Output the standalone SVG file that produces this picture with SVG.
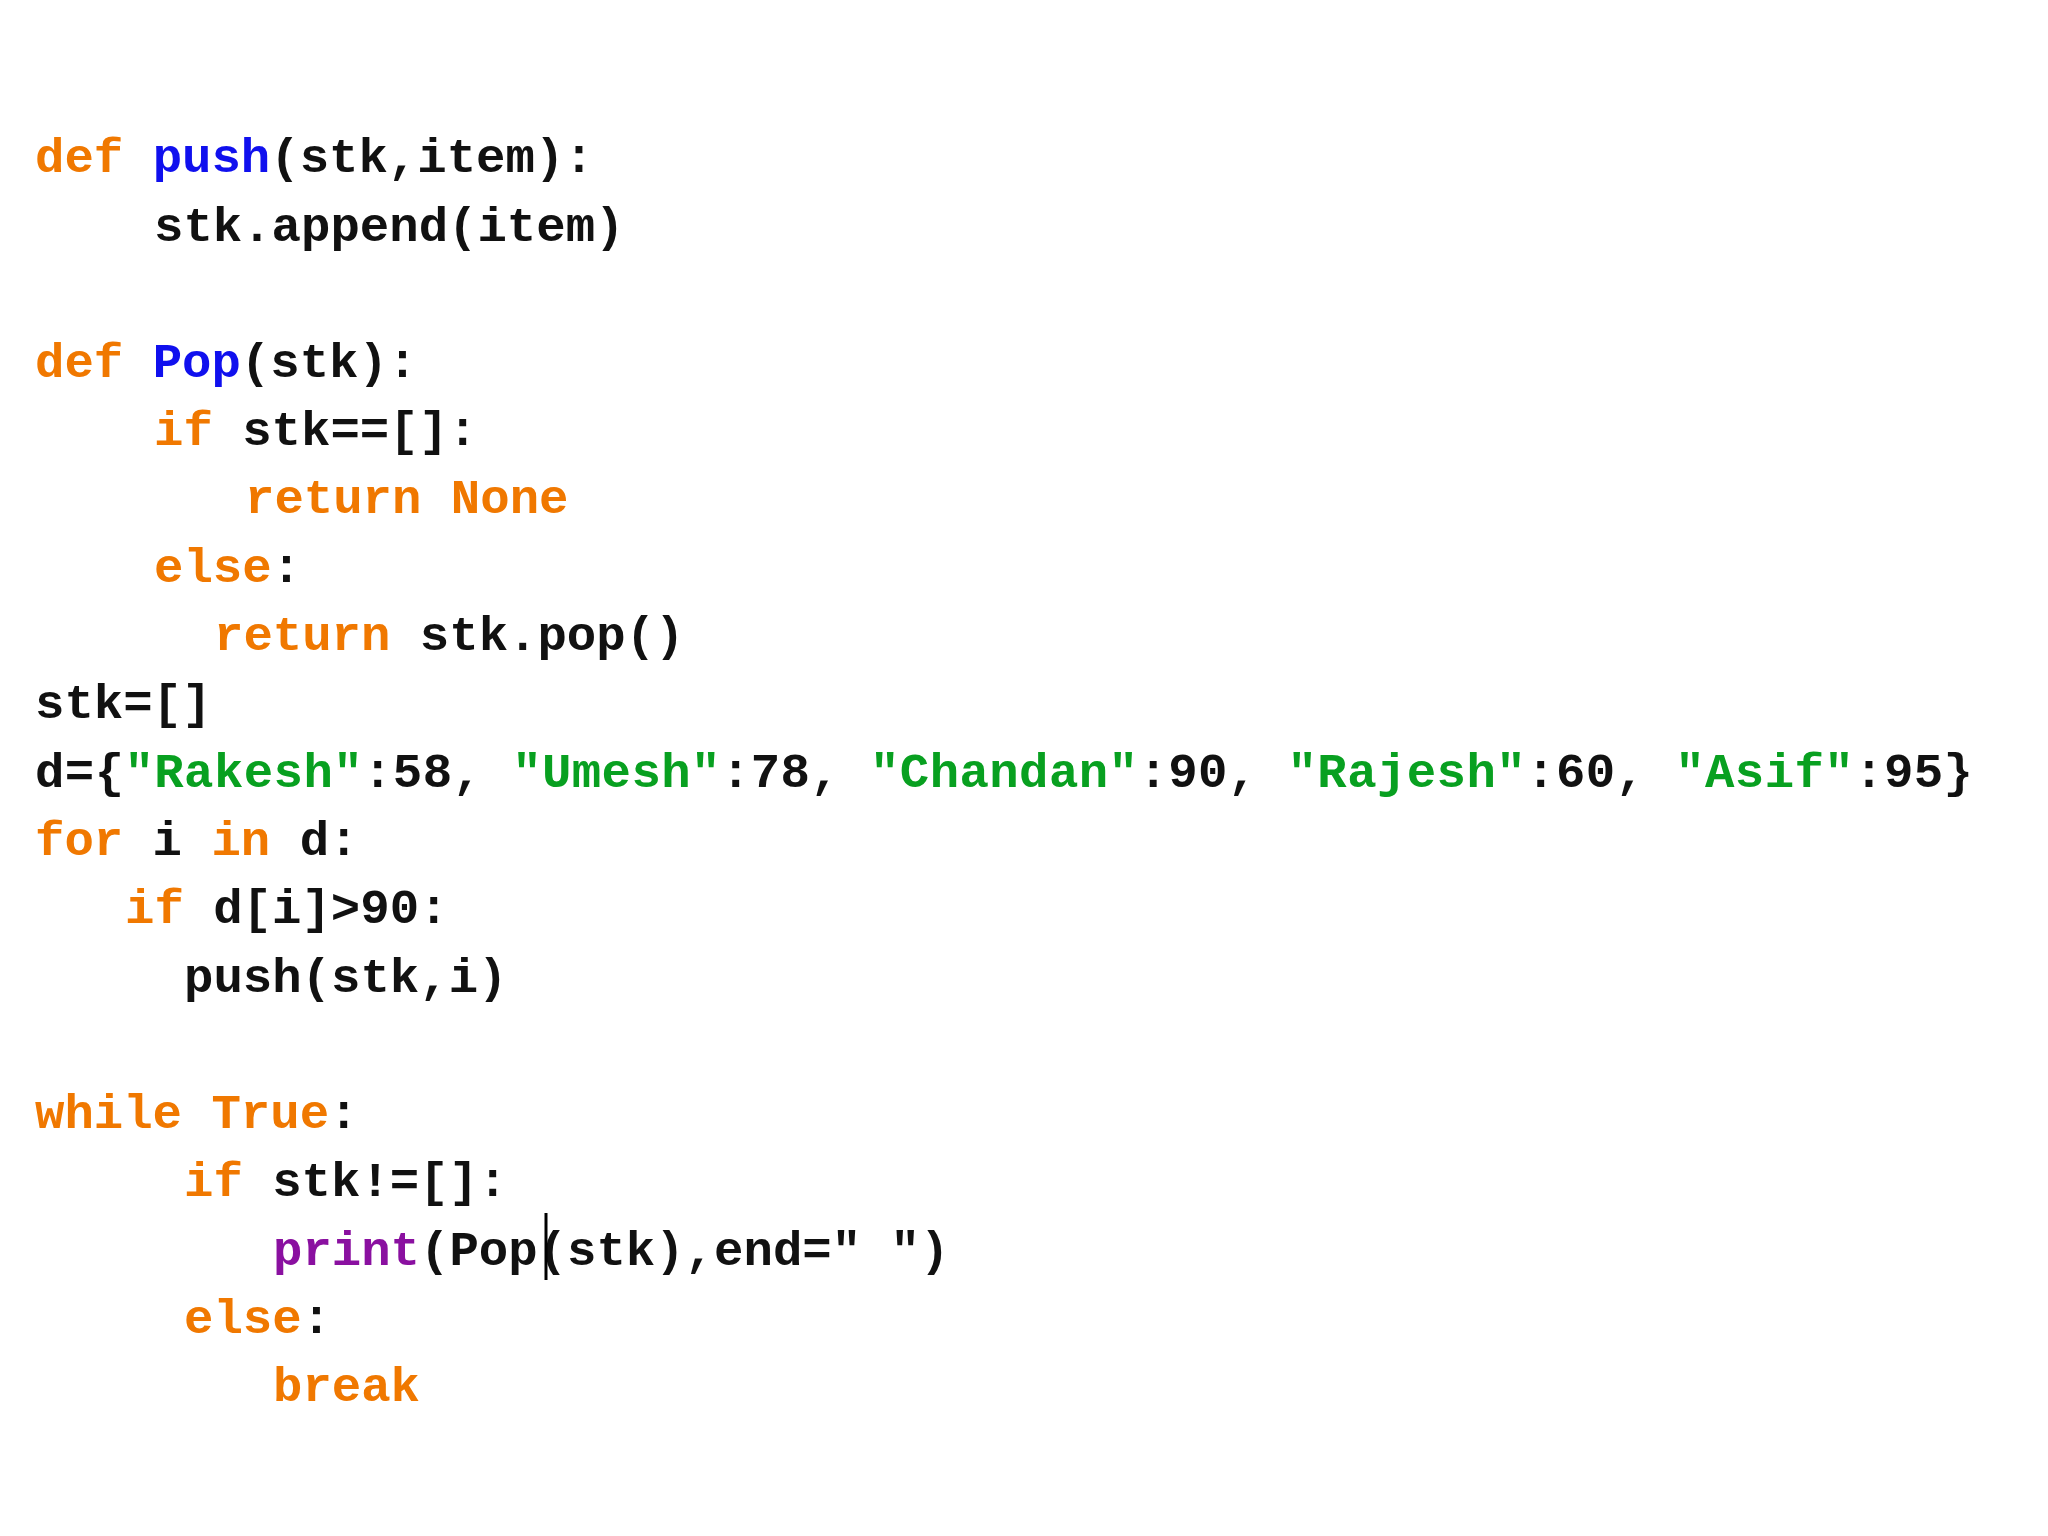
<svg xmlns="http://www.w3.org/2000/svg" width="2048" height="1536" viewBox="0 0 2048 1536">
<style>
text{font-family:"Liberation Mono","DejaVu Sans Mono",monospace;font-size:49px;font-weight:bold;fill:#111;white-space:pre}
.k{fill:#f07800}.f{fill:#1010ee}.s{fill:#08a020}.p{fill:#8a10a0}
</style>
<rect width="2048" height="1536" fill="#fff"/>
<g id="code" xml:space="preserve" transform="translate(0,-5)">
<text x="35" y="177"><tspan class="k">def</tspan> <tspan class="f">push</tspan>(stk,item):</text>
<text x="154" y="246">stk.append(item)</text>
<text x="35" y="382"><tspan class="k">def</tspan> <tspan class="f">Pop</tspan>(stk):</text>
<text x="154" y="450"><tspan class="k">if</tspan> stk==[]:</text>
<text x="245" y="518" class="k">return None</text>
<text x="154" y="587"><tspan class="k">else</tspan>:</text>
<text x="214" y="655"><tspan class="k">return</tspan> stk.pop()</text>
<text x="35" y="723">stk=[]</text>
<text x="35" y="792" textLength="1938">d={<tspan class="s">"Rakesh"</tspan>:58, <tspan class="s">"Umesh"</tspan>:78, <tspan class="s">"Chandan"</tspan>:90, <tspan class="s">"Rajesh"</tspan>:60, <tspan class="s">"Asif"</tspan>:95}</text>
<text x="35" y="860"><tspan class="k">for</tspan> i <tspan class="k">in</tspan> d:</text>
<text x="125" y="928"><tspan class="k">if</tspan> d[i]&gt;90:</text>
<text x="184" y="997">push(stk,i)</text>
<text x="35" y="1133"><tspan class="k">while True</tspan>:</text>
<text x="184" y="1201"><tspan class="k">if</tspan> stk!=[]:</text>
<text x="273" y="1270"><tspan class="p">print</tspan>(Pop(stk),end=" ")</text>
<text x="184" y="1338"><tspan class="k">else</tspan>:</text>
<text x="273" y="1406" class="k">break</text>
</g>
<line x1="546" y1="1213" x2="546" y2="1280" stroke="#000" stroke-width="3"/>
</svg>
